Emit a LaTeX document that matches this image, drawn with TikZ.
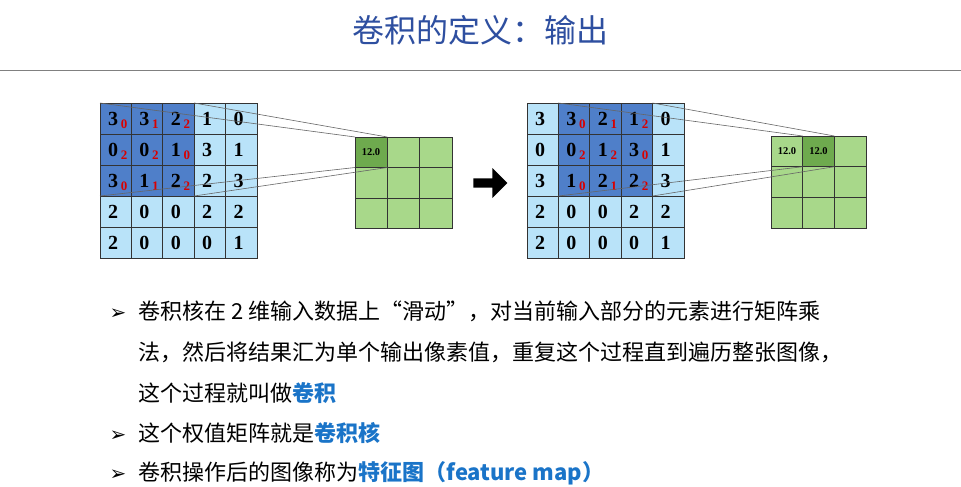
\documentclass[tikz,border=0pt]{standalone}
\usepackage{fontspec}
\newfontfamily\cjk{Noto Sans CJK SC}
\newfontfamily\dejavu{DejaVu Sans}
\setmainfont{Liberation Serif}
\usetikzlibrary{shapes.arrows}
\definecolor{lightblue}{HTML}{B9E3F9}
\definecolor{darkblue}{HTML}{4F7FC9}
\definecolor{lightgreen}{HTML}{A8D88A}
\definecolor{darkgreen}{HTML}{6EAA4E}
\definecolor{titleblue}{HTML}{2E4FA0}
\definecolor{keyblue}{HTML}{1A74C8}

\tikzset{
  cell/.style={draw=black!80,line width=0.8pt},
  val/.style={font=\bfseries\fontsize{20}{20}\selectfont},
  wgt/.style={font=\bfseries\fontsize{13}{13}\selectfont,text=red!85!black},
  outval/.style={font=\bfseries\fontsize{10.5}{10.5}\selectfont},
  proj/.style={draw=black!60,line width=0.6pt},
  bullet/.style={anchor=base west,font=\dejavu\fontsize{20}{20}\selectfont},
  line/.style={anchor=base west,font=\cjk\fontsize{22}{22}\selectfont}
}

% one 5x5 input grid: #1 = x origin, #2 = first column of the window
\newcommand{\inputgrid}[2]{%
  \foreach \r/\row in {0/{3,3,2,1,0},1/{0,0,1,3,1},2/{3,1,2,2,3},3/{2,0,0,2,2},4/{2,0,0,0,1}}{
    \foreach \v [count=\c from 0] in \row {
      \pgfmathtruncatemacro{\inwin}{(\r<3)&&(\c>=#2)&&(\c<#2+3)}
      \ifnum\inwin=1 \def\fillc{darkblue}\else\def\fillc{lightblue}\fi
      \draw[cell,fill=\fillc] (#1+\c*31.4,103+\r*31) rectangle ++(31.4,31);
      \node[val] at (#1+\c*31.4+13,103+\r*31+15.5) {\v};
    }
  }
  \foreach \r/\row in {0/{0,1,2},1/{2,2,0},2/{0,1,2}}{
    \foreach \w [count=\c from 0] in \row {
      \node[wgt] at (#1+#2*31.4+\c*31.4+24,103+\r*31+21) {\w};
    }
  }
}

\begin{document}
\begin{tikzpicture}[x=1pt,y=-1pt]
\useasboundingbox (0,0) rectangle (961,487);
\fill[white] (0,0) rectangle (961,487);

% Title
\node[font=\cjk\fontsize{32}{32}\selectfont,text=titleblue] (title) at (480,30) {卷积的定义：输出};
\draw[black!50,line width=0.8pt] (0,70) -- (961,70);

% Left input grid
\inputgrid{100}{0}

% Left output map
\foreach \r in {0,1,2}{
  \foreach \c in {0,1,2}{
    \draw[cell,fill=lightgreen] (355+\c*32.3,137+\r*30.5) rectangle ++(32.3,30.5);
  }
}
\draw[cell,fill=darkgreen] (355,137) rectangle ++(32.3,30.5);
\node[outval] (outA) at (371,152) {12.0};

% Left projection lines
\coordinate (winAtl) at (100,103);
\coordinate (winAtr) at (194.2,103);
\coordinate (winAbl) at (100,196);
\coordinate (winAbr) at (194.2,196);
\draw[proj] (winAtl) -- (355,137);
\draw[proj] (winAtr) -- (387.3,137);
\draw[proj] (winAbl) -- (355,167.5);
\draw[proj] (winAbr) -- (387.3,167.5);

% Arrow between the two steps
\node[single arrow,fill=black,minimum height=34pt,minimum width=30pt,
      single arrow head extend=5pt,inner sep=2pt] (step) at (488,183) {};

% Right input grid
\inputgrid{527}{1}

% Right output map
\foreach \r in {0,1,2}{
  \foreach \c in {0,1,2}{
    \draw[cell,fill=lightgreen] (771+\c*31.7,136+\r*30.7) rectangle ++(31.7,30.7);
  }
}
\draw[cell,fill=darkgreen] (802.7,136) rectangle ++(31.7,30.7);
\node[outval] (outB1) at (787,151.5) {12.0};
\node[outval] (outB2) at (818.5,151.5) {12.0};

% Right projection lines
\coordinate (winBtl) at (558.4,103);
\coordinate (winBtr) at (652.6,103);
\coordinate (winBbl) at (558.4,196);
\coordinate (winBbr) at (652.6,196);
\draw[proj] (winBtl) -- (802.7,136);
\draw[proj] (winBtr) -- (834.4,136);
\draw[proj] (winBbl) -- (802.7,166.7);
\draw[proj] (winBbr) -- (834.4,166.7);

% Bullet text
\node[bullet] (b1) at (106,319) {➢};
\node[line] (t1) at (135,319) {卷积核在 2 维输入数据上“滑动”，对当前输入部分的元素进行矩阵乘};
\node[line] (t2) at (135,360) {法，然后将结果汇为单个输出像素值，重复这个过程直到遍历整张图像，};
\node[line] (t3) at (135,401) {这个过程就叫做\textcolor{keyblue}{\bfseries 卷积}};
\node[bullet] (b2) at (106,441) {➢};
\node[line] (t4) at (135,441) {这个权值矩阵就是\textcolor{keyblue}{\bfseries 卷积核}};
\node[bullet] (b3) at (106,480) {➢};
\node[line] (t5) at (135,480) {卷积操作后的图像称为\textcolor{keyblue}{\bfseries 特征图（feature map）}};
\end{tikzpicture}
\end{document}
